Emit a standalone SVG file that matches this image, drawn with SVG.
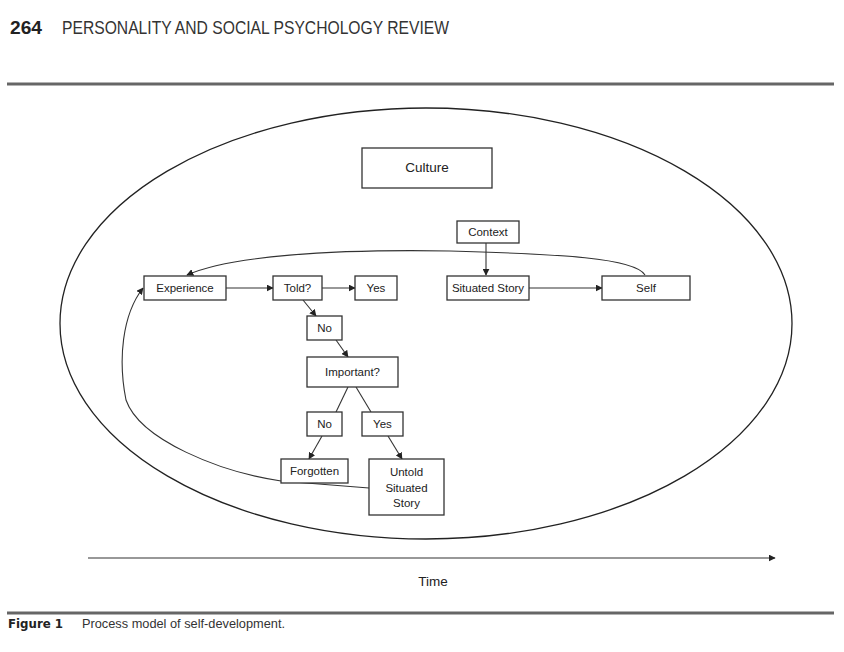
<svg xmlns="http://www.w3.org/2000/svg" width="844" height="652" viewBox="0 0 844 652">
<defs>
<style>
.box{fill:#fff;stroke:#333;stroke-width:1.3}
.lbl{font-family:"Liberation Sans",Arial,sans-serif;font-size:11.5px;fill:#222;text-anchor:middle}
.big{font-size:13.5px}
.con{fill:none;stroke:#333;stroke-width:1.1}
.rule{stroke:#666;stroke-width:3}
</style>
<marker id="ah" viewBox="0 0 10 10" refX="9" refY="5" markerWidth="7" markerHeight="7" markerUnits="userSpaceOnUse" orient="auto">
<path d="M0,0 L10,5 L0,10 z" fill="#222"/>
</marker>
</defs>
<rect width="844" height="652" fill="#fff"/>
<g id="header">
<text x="10" y="34" font-family="'Liberation Sans',Arial,sans-serif" font-weight="bold" font-size="18" fill="#222" textLength="32" lengthAdjust="spacingAndGlyphs">264</text>
<text x="62" y="34" font-family="'Liberation Sans',Arial,sans-serif" font-size="18" fill="#333" textLength="387" lengthAdjust="spacingAndGlyphs">PERSONALITY AND SOCIAL PSYCHOLOGY REVIEW</text>
<line class="rule" x1="7" y1="84" x2="834" y2="84"/>
</g>
<ellipse id="ellipse" cx="426" cy="323.5" rx="366" ry="215.5" fill="none" stroke="#222" stroke-width="1.3"/>
<g id="connectors">
<line class="con" x1="226" y1="288" x2="273" y2="288" marker-end="url(#ah)"/>
<line class="con" x1="322" y1="288" x2="355" y2="288" marker-end="url(#ah)"/>
<line class="con" x1="303" y1="300" x2="316" y2="316" marker-end="url(#ah)"/>
<line class="con" x1="336" y1="340" x2="348" y2="357" marker-end="url(#ah)"/>
<line class="con" x1="348" y1="387" x2="336" y2="412"/>
<line class="con" x1="356" y1="387" x2="371" y2="412"/>
<line class="con" x1="322" y1="436" x2="309" y2="459" marker-end="url(#ah)"/>
<line class="con" x1="388" y1="436" x2="402" y2="459" marker-end="url(#ah)"/>
<line class="con" x1="486" y1="243" x2="486" y2="275" marker-end="url(#ah)"/>
<line class="con" x1="529" y1="288" x2="602" y2="288" marker-end="url(#ah)"/>
<path class="con" d="M 645 275 C 635 258, 560 254, 450 251 C 330 249, 230 256, 187 275" marker-end="url(#ah)"/>
<path class="con" d="M 369 488 L 281 481 C 220 472, 140 440, 126 400 C 118 360, 122 315, 143 288" marker-end="url(#ah)"/>
<line class="con" x1="88" y1="558" x2="775" y2="558" stroke-width="1.6" stroke="#555" marker-end="url(#ah)"/>
</g>
<g id="culture"><rect class="box" x="362" y="148" width="130" height="40"/><text class="lbl big" x="427" y="172">Culture</text></g>
<g id="context"><rect class="box" x="457" y="221" width="62" height="22"/><text class="lbl" x="488" y="236">Context</text></g>
<g id="experience"><rect class="box" x="144" y="276" width="82" height="24"/><text class="lbl" x="185" y="292">Experience</text></g>
<g id="told"><rect class="box" x="273" y="276" width="49" height="24"/><text class="lbl" x="297.5" y="292">Told?</text></g>
<g id="yes1"><rect class="box" x="355" y="276" width="42" height="24"/><text class="lbl" x="376" y="292">Yes</text></g>
<g id="situated"><rect class="box" x="447" y="276" width="82" height="24"/><text class="lbl" x="488" y="292">Situated Story</text></g>
<g id="self"><rect class="box" x="602" y="276" width="88" height="24"/><text class="lbl" x="646" y="292">Self</text></g>
<g id="no1"><rect class="box" x="307" y="316" width="35" height="24"/><text class="lbl" x="324.5" y="332">No</text></g>
<g id="important"><rect class="box" x="307" y="357" width="91" height="30"/><text class="lbl" x="352.5" y="376">Important?</text></g>
<g id="no2"><rect class="box" x="307" y="412" width="35" height="24"/><text class="lbl" x="324.5" y="428">No</text></g>
<g id="yes2"><rect class="box" x="362" y="412" width="41" height="24"/><text class="lbl" x="382.5" y="428">Yes</text></g>
<g id="forgotten"><rect class="box" x="281" y="459" width="67" height="24"/><text class="lbl" x="314.5" y="475">Forgotten</text></g>
<g id="untold"><rect class="box" x="369" y="459" width="75" height="56"/><text class="lbl" x="406.5" y="476">Untold</text><text class="lbl" x="406.5" y="492">Situated</text><text class="lbl" x="406.5" y="507">Story</text></g>
<g id="time"><text class="lbl big" x="433" y="586">Time</text></g>
<g id="caption">
<line class="rule" x1="7" y1="613" x2="834" y2="613"/>
<text x="8" y="628" font-family="'DejaVu Sans',sans-serif" font-weight="bold" font-size="13" fill="#222" textLength="55" lengthAdjust="spacingAndGlyphs">Figure 1</text>
<text x="82" y="628" font-family="'Liberation Sans',Arial,sans-serif" font-size="13" fill="#333" textLength="203" lengthAdjust="spacingAndGlyphs">Process model of self-development.</text>
</g>
</svg>
